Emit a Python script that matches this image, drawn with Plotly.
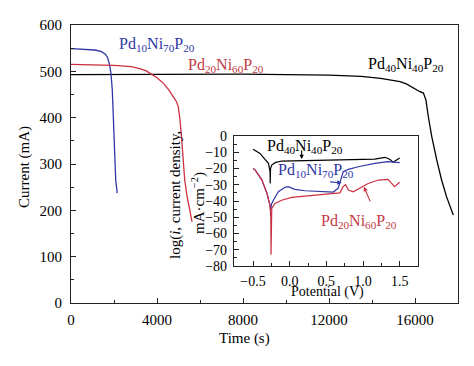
import plotly.graph_objects as go

# ---- main plot data: current vs time ----
blue_t = [0, 600, 1100, 1400, 1600, 1700, 1790, 1860, 1920, 1970, 2020, 2080, 2150]
blue_i = [549, 548, 546, 543, 537, 530, 515, 495, 460, 400, 320, 265, 237]

red_t = [0, 1000, 2000, 2800, 3200, 3500, 3750, 4000, 4300, 4550, 4760, 4900, 4990,
         5070, 5150, 5220, 5290, 5400, 5520, 5630]
red_i = [515, 514, 513, 510, 506, 501, 494, 486, 474, 460, 445, 435, 424,
         395, 352, 309, 265, 230, 200, 175]

black_t = [0, 4000, 8000, 12000, 13500, 14400, 15000, 15300, 15600, 15850, 16000,
           16230, 16390, 16510, 16620, 16780, 17010, 17240, 17470, 17780]
black_i = [493, 494, 494, 492, 489, 485, 481, 478, 473, 466, 461,
           456, 453, 438, 402, 359, 309, 265, 229, 190]

# ---- inset data: log current density vs potential ----
black_v = [-0.5, -0.405, -0.337, -0.29, -0.268, -0.266, -0.262, -0.245, -0.2, -0.11,
           0.1, 0.3, 0.48, 0.71, 0.935, 1.16, 1.3, 1.37, 1.41, 1.45, 1.5]
black_j = [-8.2, -10.7, -14.4, -16.8, -22, -29.2, -20, -17.9, -16.4, -15.4,
           -15.2, -15, -14.8, -14.6, -14.8, -14.2, -13.1, -14.5, -16.2, -15, -13.5]

blue_v = [-0.5, -0.47, -0.38, -0.31, -0.27, -0.258, -0.25, -0.223, -0.155, -0.064,
          -0.02, 0.07, 0.21, 0.436, 0.594, 0.66, 0.70, 0.73, 0.80, 0.935, 1.16, 1.34, 1.5]
blue_j = [-20, -21, -27, -35.4, -42.5, -46, -42, -39.5, -34.3, -31.6,
          -31.2, -32.8, -33.7, -34.3, -34.5, -32.2, -27, -22, -20.5, -18.9, -16.8, -15.8, -16.4]

red_v = [-0.5, -0.47, -0.38, -0.31, -0.27, -0.258, -0.255, -0.252, -0.245, -0.2,
         -0.11, 0.027, 0.3, 0.57, 0.685, 0.73, 0.763, 0.8, 0.867, 0.98, 1.07, 1.21,
         1.34, 1.39, 1.43, 1.48, 1.5]
red_j = [-20, -21, -27, -35.4, -42.5, -50, -73, -50, -44.6, -41.5,
         -39.5, -37.8, -36.4, -35.4, -35, -31, -30, -33.3, -34.3, -31.2, -29.2, -27.1,
         -26.7, -29.2, -31.2, -29.2, -28.5]

FONT = "Liberation Serif"
BLUE = "#2f37a6"
RED = "#cc3040"
RED_TXT = "#c23a46"
AX = "#222222"

# page body has an 8px default margin; the figure is sized so the plot area lands
# at x 71..458, y 25..303 of the window
OFF = 8
L, R, T, B = 71, 458, 25, 303
W, H = 474 - OFF, 366 - OFF

fig = go.Figure()
fig.add_trace(go.Scatter(x=black_t, y=black_i, mode="lines", line=dict(color="black", width=1.3)))
fig.add_trace(go.Scatter(x=blue_t, y=blue_i, mode="lines", line=dict(color=BLUE, width=1.3)))
fig.add_trace(go.Scatter(x=red_t, y=red_i, mode="lines", line=dict(color=RED, width=1.3)))

fig.add_trace(go.Scatter(x=black_v, y=black_j, mode="lines", xaxis="x2", yaxis="y2",
                         line=dict(color="black", width=1.2)))
fig.add_trace(go.Scatter(x=blue_v, y=blue_j, mode="lines", xaxis="x2", yaxis="y2",
                         line=dict(color=BLUE, width=1.2)))
fig.add_trace(go.Scatter(x=red_v, y=red_j, mode="lines", xaxis="x2", yaxis="y2",
                         line=dict(color=RED, width=1.2)))

common = dict(showgrid=False, zeroline=False, showline=True, linecolor=AX, linewidth=1.2,
              mirror=True, ticks="inside", tickcolor=AX, ticklen=5)

PW, PH = R - L, B - T

def px(x):
    return (x - L) / PW

def py(y):
    return (B - y) / PH

fig.update_layout(
    width=W, height=H,
    margin=dict(l=L - OFF, r=W - (R - OFF), t=T - OFF, b=H - (B - OFF), autoexpand=False),
    paper_bgcolor="white", plot_bgcolor="white",
    showlegend=False,
    font=dict(family=FONT, size=14, color="black"),
    xaxis=dict(range=[0, 18000], dtick=4000, tick0=0, tickformat="d",
               minor=dict(dtick=2000, ticks="inside", ticklen=3, tickcolor=AX),
               tickfont=dict(size=15), ticklabelstandoff=3, **common),
    yaxis=dict(range=[0, 600], dtick=100, tick0=0,
               minor=dict(dtick=50, ticks="inside", ticklen=3, tickcolor=AX),
               tickfont=dict(size=15), ticklabelstandoff=5, **common),
    xaxis2=dict(domain=[px(234), px(418)], anchor="y2", range=[-0.76, 1.75],
                tick0=-0.5, dtick=0.5, tickformat=".1f",
                minor=dict(dtick=0.25, ticks="inside", ticklen=3, tickcolor=AX),
                tickfont=dict(size=14), ticklabelstandoff=2, **common),
    yaxis2=dict(domain=[py(266), py(136)], anchor="x2", range=[-80, 0],
                tick0=0, dtick=10,
                minor=dict(dtick=5, ticks="inside", ticklen=3, tickcolor=AX),
                tickfont=dict(size=14), ticklabelstandoff=3, **common),
)

def pa(text, x, y, color="black", size=16, **kw):
    fig.add_annotation(text=text, x=px(x), y=py(y), xref="paper", yref="paper",
                       xanchor="center", yanchor="middle",
                       showarrow=False, font=dict(family=FONT, size=size, color=color), **kw)

# axis titles
pa("Time (s)", 244, 338, size=15)
pa("Current (mA)", 25, 167, size=15, textangle=-90)
pa("Potential (V)", 327, 292, size=14)
pa("log(<i>i</i>, current density,", 175, 195, size=15, textangle=-90)
pa("mA·cm<sup>−2</sup>)", 198, 203, size=15, textangle=-90)

# series labels, main plot
pa("Pd<sub>10</sub>Ni<sub>70</sub>P<sub>20</sub>", 157, 44, color=BLUE)
pa("Pd<sub>20</sub>Ni<sub>60</sub>P<sub>20</sub>", 226, 65, color=RED_TXT)
pa("Pd<sub>40</sub>Ni<sub>40</sub>P<sub>20</sub>", 406, 64)

# inset labels
pa("Pd<sub>40</sub>Ni<sub>40</sub>P<sub>20</sub>", 305, 146)
pa("Pd<sub>10</sub>Ni<sub>70</sub>P<sub>20</sub>", 316, 170, color=BLUE)
pa("Pd<sub>20</sub>Ni<sub>60</sub>P<sub>20</sub>", 359, 221, color=RED_TXT)

# inset arrows
def arrow(x, y, ax, ay, color):
    fig.add_annotation(x=x, y=y, xref="x2", yref="y2", text="", showarrow=True,
                       ax=ax, ay=ay, arrowhead=2, arrowsize=0.8, arrowwidth=1.1,
                       arrowcolor=color)

arrow(0.163, -14.2, 0, -10, "black")
arrow(0.708, -28.8, -13, -1, BLUE)
arrow(1.012, -31.3, 7, 16, RED)

fig.write_html("out.html")
